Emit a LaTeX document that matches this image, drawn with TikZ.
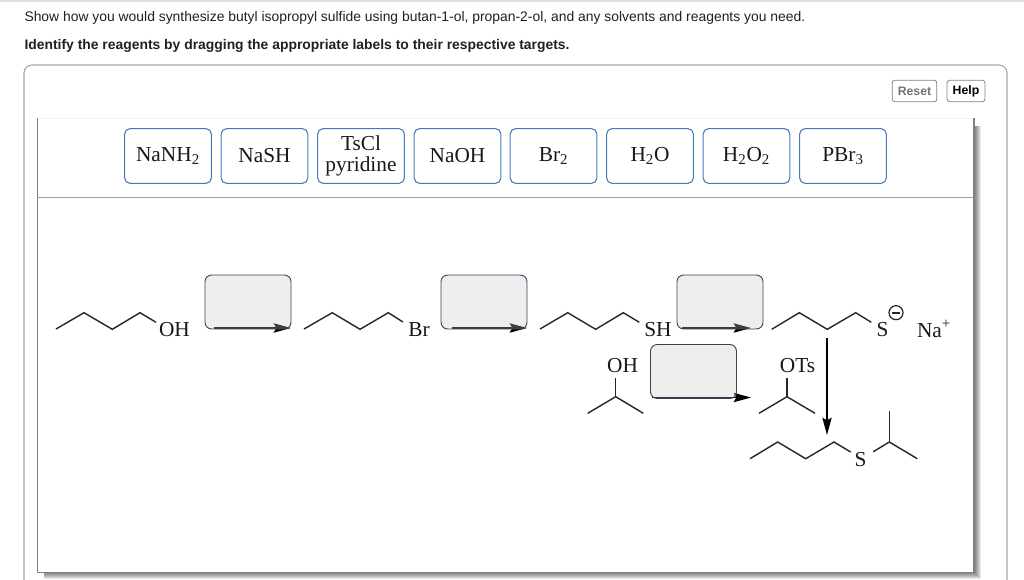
\documentclass[tikz,border=0pt]{standalone}
\usepackage{fontspec}
\setmainfont{Liberation Serif}
\newfontfamily\uifont{Liberation Sans}
\usetikzlibrary{arrows.meta}

\definecolor{uitext}{rgb}{0.13,0.13,0.13}
\definecolor{labelblue}{rgb}{0.29,0.47,0.74}
\definecolor{dropedge}{rgb}{0.24,0.25,0.36}
\definecolor{dropfill}{RGB}{198,203,203}

\tikzset{every picture/.style={line width=0.75pt}}
\tikzset{
  labelbox/.style={draw=labelblue,line width=0.8pt,rounded corners=4pt,fill=white,inner sep=0pt,minimum width=65pt,minimum height=41pt,font=\fontsize{16}{16}\selectfont,align=center,text=black!90},
  dropbox/.style={draw=dropedge,line width=0.7pt,rounded corners=5pt,fill=dropfill,fill opacity=0.3,draw opacity=1,text opacity=1,inner sep=0pt,minimum width=64.5pt,minimum height=40.5pt},
  uibutton/.style={draw=black!50,line width=0.6pt,rounded corners=2pt,fill=white,inner sep=0pt,minimum height=16pt,font=\uifont\bfseries\fontsize{9.2}{9.2}\selectfont},
  uitextline/.style={anchor=base west,inner sep=0pt,text=uitext,font=\uifont\fontsize{10.42}{12}\selectfont},
  atom/.style={inner sep=0pt,font=\fontsize{16}{16}\selectfont,text=black!90},
  bond/.style={draw=black!85,line width=1.05pt,line join=miter},
  rxnarrow/.style={draw=black,line width=1.1pt,-{Stealth[length=13pt,width=7pt,inset=2pt]}},
}

\begin{document}
\begin{tikzpicture}[x=0.75pt,y=0.75pt,yscale=-1,xscale=1]
\useasboundingbox (0,0) rectangle (1024,579);
\fill[white] (0,0) rectangle (1024,579);

%Straight Lines top rule
\draw [black!12,line width=1pt] (0,1) -- (1024,1);

% Text Node
\node [uitextline] (question) at (24,21.5) {Show how you would synthesize butyl isopropyl sulfide using butan-1-ol, propan-2-ol, and any solvents and reagents you need.};
% Text Node
\node [uitextline,font=\uifont\bfseries\fontsize{10.42}{12}\selectfont] (task) at (24,49) {Identify the reagents by dragging the appropriate labels to their respective targets.};

%Shape: outer panel
\draw [black!35,line width=0.8pt,rounded corners=6pt] (24,590) -- (24,65) -- (1007,65) -- (1007,590);

%Shape: shadow of the board
\foreach \s in {7,6,...,1}
  \fill [black,opacity=0.09] (44,126) rectangle (974+\s,572+\s);

%Shape: board
\fill [white] (37,118) rectangle (974,572);
\draw [black!4] (37,118) -- (974,118);
\draw [black!50,line width=1.1pt] (974,118) -- (974,572.5);
\draw [black!50,line width=1.3pt] (37.5,118) -- (37.5,572.5) -- (974,572.5);
\draw [black!38,line width=0.7pt] (37,197) -- (974,197);

% Buttons
\node [uibutton,minimum width=33.5pt,text=black!55] (reset) at (914.5,91) {Reset};
\node [uibutton,minimum width=28.5pt,text=black] (help) at (966,91) {Help};

% Label boxes
\node [labelbox] (nanh) at (168,156) {NaNH\textsubscript{2}};
\node [labelbox] (nash) at (264.5,156) {\raisebox{-0.8pt}{NaSH}};
\node [labelbox] (tscl) at (361,156) {\raisebox{-1pt}{TsCl}\\[-0.5pt]\raisebox{-1pt}{pyridine}};
\node [labelbox] (naoh) at (457.5,156) {\raisebox{-0.8pt}{NaOH}};
\node [labelbox] (brtwo) at (553.5,156) {Br\textsubscript{2}};
\node [labelbox] (water) at (650,156) {H\textsubscript{2}O};
\node [labelbox] (peroxide) at (746.5,156) {H\textsubscript{2}O\textsubscript{2}};
\node [labelbox] (pbr) at (843,156) {PBr\textsubscript{3}};

% Text Node atoms
\node [atom] (ohbutyl) at (174.5,330) {OH};
\node [atom] (brbutyl) at (419,330) {Br};
\node [atom] (shbutyl) at (658,330) {SH};
\node [atom] (sthiolate) at (882.5,330) {S};
\node [atom] (sodium) at (934,329) {Na\textsuperscript{+}};
\node [atom] (ohpropyl) at (622.5,366) {OH};
\node [atom] (otspropyl) at (797.5,366) {OTs};
\node [atom] (ssulfide) at (860.5,460) {S};

%Shape: minus charge
\node [draw=black!85,circle,line width=0.9pt,minimum size=10.5pt,inner sep=0pt] (charge) at (896,312.7) {};
\draw [black!85,line width=1.4pt] (charge.center) ++(-4,0) -- ++(8,0);

%Straight Lines butyl chains
\draw [bond] (56,329) -- (84,312.7) -- (112.3,329.3) -- (140,312.7) -- (156,322.3);
\draw [bond] (304,329) -- (332.3,312.7) -- (360,329.3) -- (388.3,312.7) -- (403,322);
\draw [bond] (540,329) -- (567.7,312.7) -- (595.7,329.3) -- (623.3,312.7) -- (639.3,322.3);
\draw [bond] (771.7,329.3) -- (799.3,312.7) -- (827.3,329.3) -- (855.7,312.7) -- (871.3,322.3);

%Straight Lines isopropyl groups
\draw [bond] (615.7,378.3) -- (615.7,396.7);
\draw [bond] (587.7,413.3) -- (615.7,396.7) -- (643.3,413.3);
\draw [bond] (787,378.3) -- (787,396.7);
\draw [bond] (759,413.3) -- (787,396.7) -- (815,413.3);

%Straight Lines product
\draw [bond] (750,458.7) -- (777.7,442) -- (805.7,458.7) -- (834,442) -- (850.7,452);
\draw [bond] (873.3,451.7) -- (889.3,442) -- (917.3,458.7);
\draw [bond] (889.3,442) -- (889.3,410.7);

% Arrow ends
\coordinate (arrowastart) at (214,328);
\coordinate (arrowaend) at (291,328);
\coordinate (arrowbstart) at (452,328);
\coordinate (arrowbend) at (527,328);
\coordinate (arrowcstart) at (682,328);
\coordinate (arrowcend) at (751,328);
\coordinate (arrowdstart) at (652,397.5);
\coordinate (arrowdend) at (751,397.5);
\coordinate (arrowestart) at (827,338);
\coordinate (arrowend) at (827,435);

% Arrows, the boxes come over them
\draw [rxnarrow] (arrowastart) -- (arrowaend);
\draw [rxnarrow] (arrowbstart) -- (arrowbend);
\draw [rxnarrow] (arrowcstart) -- (arrowcend);
\draw [rxnarrow] (arrowdstart) -- (arrowdend);
\draw [rxnarrow] (arrowestart) -- (arrowend);

% Drop targets
\node [dropbox] (targeta) at (248,302) {};
\node [dropbox] (targetb) at (484,302) {};
\node [dropbox] (targetc) at (720,302) {};
\node [dropbox] (targetd) at (693.5,371.5) {};

\end{tikzpicture}
\end{document}
